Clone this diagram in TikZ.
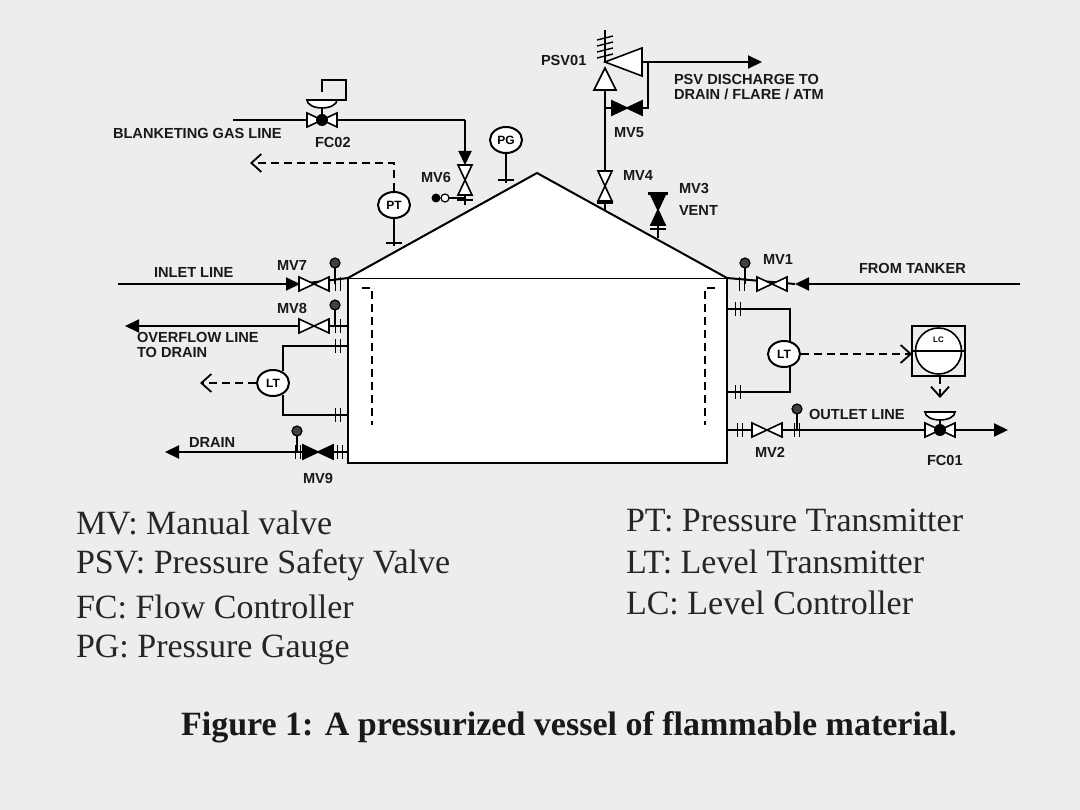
\documentclass[tikz,border=0pt]{standalone}
\usepackage{fontspec}
\setmainfont{Liberation Serif}
\newfontfamily\lab{Liberation Sans}
\usetikzlibrary{arrows.meta,shapes.geometric}
\begin{document}
\begin{tikzpicture}[x=1pt,y=-1pt,line width=2pt,
 lbl/.style={font=\lab\bfseries\fontsize{14.6}{15.5}\selectfont,inner sep=0pt,anchor=west,text=black!90},
 inst/.style={draw,ellipse,minimum width=32pt,minimum height=26pt,inner sep=0pt,font=\lab\bfseries\fontsize{12}{12}\selectfont,fill=white},
 leg/.style={font=\fontsize{34}{36}\selectfont,anchor=west,inner sep=0pt,text=black!85},
 sig/.style={dash pattern=on 8pt off 5pt,line width=1.8pt},
 oarr/.style={-{Straight Barb[length=10pt,width=18pt]}},
 farr/.style={-{Triangle[length=14pt,width=13pt]}},
 hv/.pic={\draw[fill=white,line width=1.6pt] (-15,-7)--(-15,7)--(15,-7)--(15,7)--cycle;},
 hvf/.pic={\draw[fill=black,line width=1.6pt] (-15,-7)--(-15,7)--(15,-7)--(15,7)--cycle;},
 vv/.pic={\draw[fill=white,line width=1.6pt] (-7,-15)--(7,-15)--(-7,15)--(7,15)--cycle;},
 vvf/.pic={\draw[fill=black,line width=1.6pt] (-7,-15)--(7,-15)--(-7,15)--(7,15)--cycle;},
 fl/.pic={\draw[line width=1.6pt] (-2.5,-7)--(-2.5,7) (2.5,-7)--(2.5,7);},
 hdl/.pic={\draw[line width=1.6pt] (0,0)--(0,-16); \draw[fill=black!75,line width=1.2pt] (0,-21) circle (5);},
]
\useasboundingbox (0,0) rectangle (1080,810);
\fill[black!7] (0,0) rectangle (1080,810);

% vessel
\coordinate (vl) at (348,278); \coordinate (vr) at (727,278);
\coordinate (ap) at (537,173);
\draw[fill=white] (348,463) rectangle (727,278);
\draw[fill=white] (vl)--(ap)--(vr);
\draw[sig] (362,288)--(372,288)--(372,425);
\draw[sig] (715,288)--(705,288)--(705,425);

% inlet MV7
\coordinate (in0) at (118,284);
\draw[farr] (in0)--(300,284);
\draw (300,284)--(vl);
\pic at (314,284) {hv}; \pic at (338,284) {fl}; \pic at (335,284) {hdl};
\node[lbl] (mv7) at (276,265) {MV7};
\node[lbl] (inl) at (153,272) {INLET LINE};
% MV8 overflow
\draw[farr] (348,326)--(125,326);
\pic at (314,326) {hv}; \pic at (338,326) {fl}; \pic at (335,326) {hdl};
\node[lbl] (mv8) at (276,308) {MV8};
\node[lbl,align=left,anchor=north west] (ovf) at (136,331) {OVERFLOW LINE\\TO DRAIN};
% left LT
\node[inst] (ltl) at (273,383) {LT};
\draw (348,346)--(283,346)--(283,371);
\draw (283,395)--(283,415)--(348,415);
\pic at (338,346) {fl}; \pic at (338,415) {fl};
\draw[sig,oarr] (ltl.west)--(200,383);
% drain MV9
\draw[farr] (348,452)--(165,452);
\pic at (318,452) {hvf}; \pic at (340,452) {fl}; \pic at (298,452) {fl}; \pic at (297,452) {hdl};
\node[lbl] (drn) at (188,442) {DRAIN};
\node[lbl] (mv9) at (302,478) {MV9};

% PT
\node[inst] (pt) at (394,205) {PT};
\draw (pt.south)--(394,246); \draw[line width=1.6pt] (386,243)--(402,243);
\draw[sig,oarr] (pt.north)--(394,163)--(250,163);
% PG
\node[inst] (pg) at (506,140) {PG};
\draw (pg.south)--(506,183); \draw[line width=1.6pt] (498,180)--(514,180);
% blanketing gas FC02
\draw (233,120)--(465,120);
\draw[farr] (465,120)--(465,165);
\pic at (322,120) {hv}; \fill (322,120) circle (6);
\draw (322,120)--(322,100);
\draw[fill=white,line width=1.6pt] (307,100) arc (180:360:15 and -8)--cycle;
\draw[line width=1.6pt] (322,92)--(322,80)--(346,80)--(346,100)--(336,100);
\node[lbl] (fc02) at (314,142) {FC02};
\node[lbl] (bgl) at (112,133) {BLANKETING GAS LINE};
\pic at (465,180) {vv};
\draw (465,195)--(465,205); \draw[line width=1.6pt] (457,200)--(473,200);
\draw[line width=1.6pt] (465,198)--(448,198);
\draw[fill=white,line width=1.2pt] (445,198) circle (4); \fill (436,198) circle (4.5);
\node[lbl] (mv6) at (420,177) {MV6};

% PSV
\draw (605,210)--(605,90);
\pic at (605,186) {vv};
\draw[line width=1.6pt] (597,203)--(613,203);
\node[lbl] (mv4) at (622,175) {MV4};
\draw[fill=white,line width=1.6pt] (594,90)--(616,90)--(605,68)--cycle;
\draw[fill=white,line width=1.6pt] (605,62)--(642,48)--(642,76)--cycle;
\draw[line width=1.6pt] (605,62)--(605,30);
\foreach \yy in {36,42,48,54} \draw[line width=1.4pt] (597,\yy+4)--(613,\yy);
\draw[farr] (642,62)--(762,62);
\draw (648,62)--(648,108)--(605,108);
\pic at (627,108) {hvf};
\node[lbl] (psv) at (540,60) {PSV01};
\node[lbl] (mv5) at (613,133) {MV5};
\node[lbl,align=left,anchor=north west] (dis) at (673,73) {PSV DISCHARGE TO\\DRAIN / FLARE / ATM};
% MV3
\pic at (658,210) {vvf};
\draw[line width=3pt] (648,194)--(668,194);
\draw (658,225)--(658,238); \draw[line width=1.6pt] (650,229)--(666,229);
\node[lbl] (mv3) at (678,188) {MV3};
\node[lbl] (vent) at (678,210) {VENT};

% MV1 from tanker
\draw[farr] (1020,284)--(795,284);
\draw (795,284)--(vr);
\pic at (772,284) {hv}; \pic at (742,284) {fl}; \pic at (745,284) {hdl};
\node[lbl] (mv1) at (762,259) {MV1};
\node[lbl] (ftk) at (858,268) {FROM TANKER};
% right LT
\node[inst] (ltr) at (784,354) {LT};
\draw (727,309)--(790,309)--(790,342);
\draw (790,366)--(790,392)--(727,392);
\pic at (738,309) {fl}; \pic at (738,392) {fl};
% LC
\draw[line width=1.6pt] (912,326) rectangle (965,376);
\draw[fill=white,line width=1.6pt] (938.5,351) circle (23);
\draw[line width=1.6pt] (912,351)--(965,351);
\node[font=\lab\bfseries\fontsize{8}{8}\selectfont,inner sep=0pt] (lc) at (938.5,340) {LC};
\draw[sig,oarr] (ltr.east)--(912,354);
\draw[sig,oarr] (940,376)--(940,398);
% outlet
\draw[farr] (727,430)--(1008,430);
\pic at (767,430) {hv}; \pic at (740,430) {fl}; \pic at (797,430) {fl}; \pic at (797,430) {hdl};
\node[lbl] (out) at (808,414) {OUTLET LINE};
\node[lbl] (mv2) at (754,452) {MV2};
\pic at (940,430) {hv}; \fill (940,430) circle (6);
\draw (940,430)--(940,412);
\draw[fill=white,line width=1.6pt] (925,412) arc (180:360:15 and -8)--cycle;
\node[lbl] (fc01) at (926,460) {FC01};

% legend
\node[leg] (l1) at (75,523) {MV: Manual valve};
\node[leg] (l2) at (75,565) {PSV: Pressure Safety Valve};
\node[leg] (l3) at (75,607) {FC: Flow Controller};
\node[leg] (l4) at (75,650) {PG: Pressure Gauge};
\node[leg] (l5) at (625,520) {PT: Pressure Transmitter};
\node[leg] (l6) at (625,562) {LT: Level Transmitter};
\node[leg] (l7) at (625,603) {LC: Level Controller};
\node[font=\bfseries\fontsize{34}{36}\selectfont,inner sep=0pt,text=black!90] (cap) at (569,727) {Figure 1: A pressurized vessel of flammable material.};
\end{tikzpicture}
\end{document}
